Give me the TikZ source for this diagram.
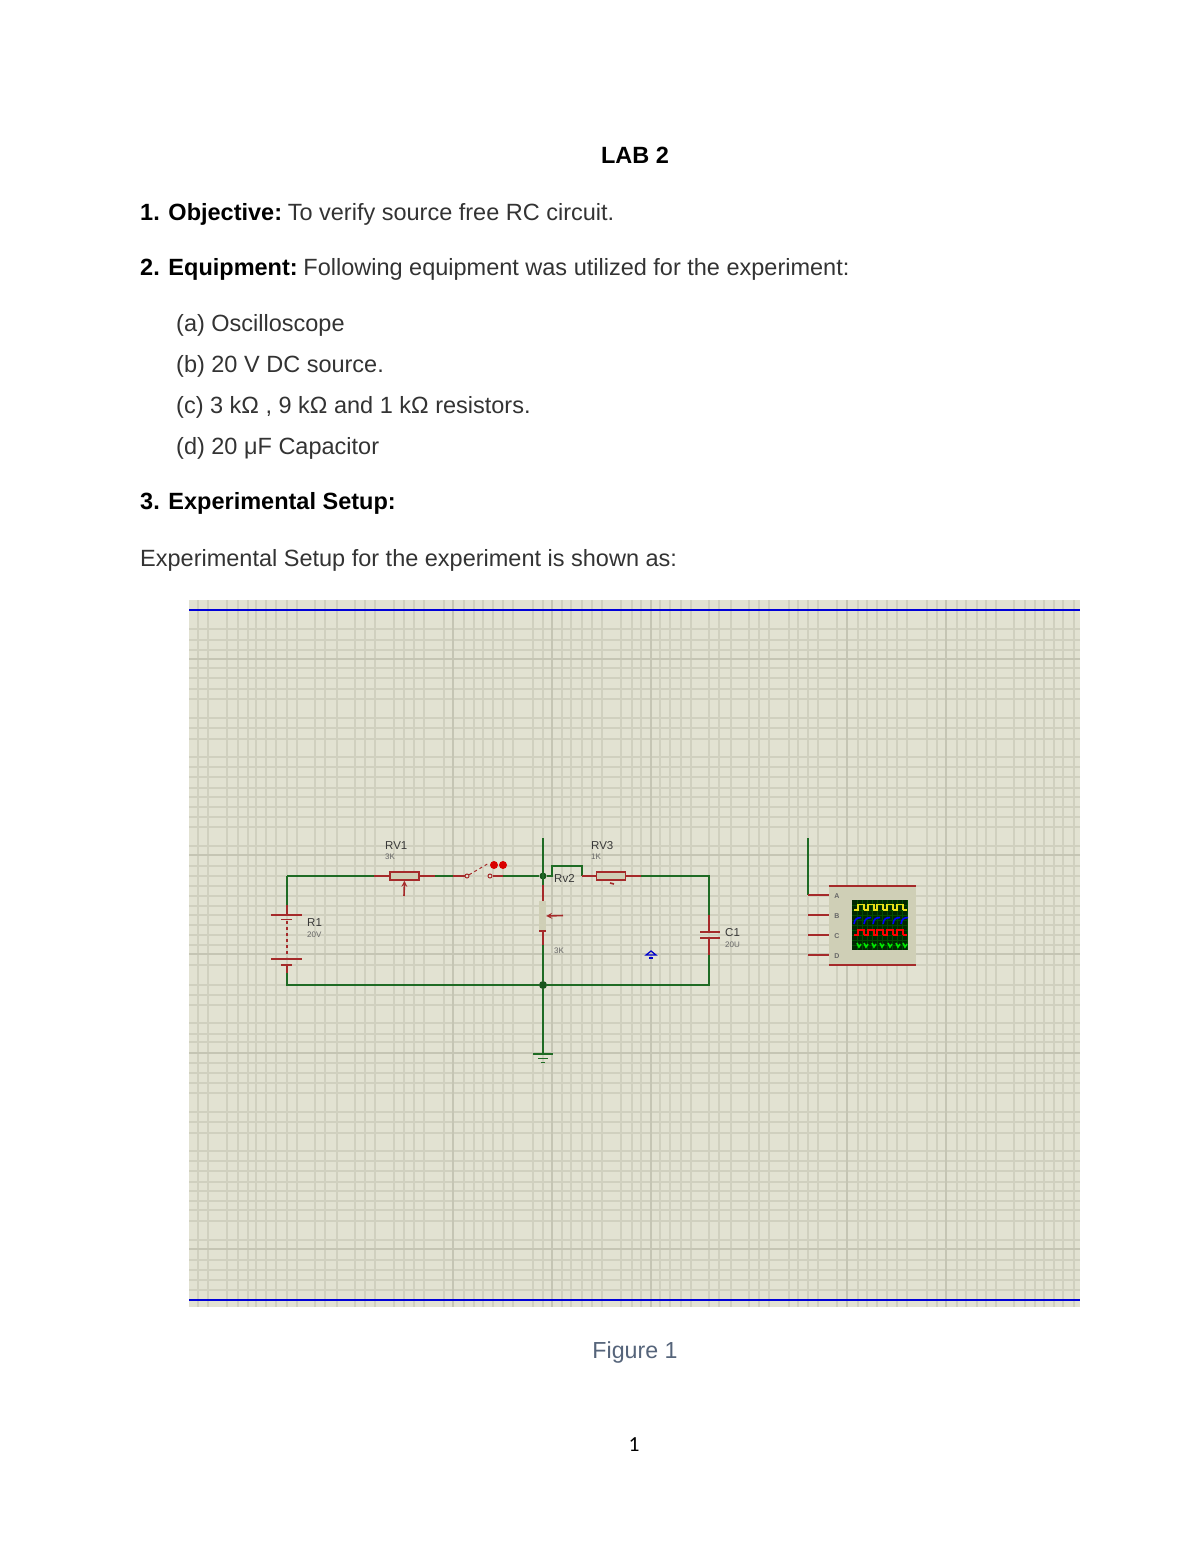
\documentclass[tikz,border=0pt]{standalone}
\usepackage{fontspec}
\setmainfont{Liberation Sans}
\newfontfamily\pagefont{Carlito}
\definecolor{sheet}{HTML}{E2E2D2}
\definecolor{gridcol}{HTML}{D0D0BF}
\definecolor{gridmaj}{HTML}{C5C5B4}
\definecolor{wirecol}{HTML}{1F6B24}
\definecolor{partcol}{HTML}{A52A2A}
\definecolor{partfill}{HTML}{CFCFB6}
\definecolor{capcol}{HTML}{55647A}
\newcommand{\hd}[1]{{\bfseries\color{black}#1}}
\tikzset{
    body/.style={anchor=base west,inner sep=0pt,font=\fontsize{23.5}{28}\selectfont,text=black!80},
    gridline/.style={gridcol,line width=1.7pt},
    gridbold/.style={gridmaj,line width=2.8pt},
    wire/.style={wirecol,line width=1.6pt},
    part/.style={partcol,line width=1.6pt},
    resbox/.style={draw=partcol,fill=partfill,line width=1.6pt,inner sep=0pt,minimum width=29pt,minimum height=8pt},
    dot/.style={circle,fill=wirecol!80!black,inner sep=0pt,minimum size=7pt},
    big/.style={anchor=base west,inner sep=0pt,font=\fontsize{11.5}{13}\selectfont,text=black!78},
    tiny/.style={anchor=base west,inner sep=0pt,font=\fontsize{8}{9}\selectfont,text=black!60}
}
\begin{document}
\begin{tikzpicture}[x=1pt,y=-1pt]
    \useasboundingbox (0,0) rectangle (1200,1553);
    \fill[white] (0,0) rectangle (1200,1553);
    % page text
    \node[body,anchor=base] (title) at (635,163) {\hd{LAB 2}};
    \node[body] (objective) at (140,220) {\hd{1. Objective:}\hspace{-3pt} To verify source free RC circuit.};
    \node[body] (equipment) at (140,275) {\hd{2. Equipment:}\hspace{-3pt} Following equipment was utilized for the experiment:};
    \node[body] (itema) at (176,331) {(a) Oscilloscope};
    \node[body] (itemb) at (176,372) {(b) 20 V DC source.};
    \node[body] (itemc) at (176,413) {(c) 3 kΩ , 9 kΩ and 1 kΩ resistors.};
    \node[body] (itemd) at (176,454) {(d) 20 μF Capacitor};
    \node[body] (setup) at (140,509) {\hd{3. Experimental Setup:}};
    \node[body] (shown) at (140,566) {Experimental Setup for the experiment is shown as:};
    % sheet and its grid
    \fill[sheet] (189,600) rectangle (1080,1307);
    \foreach \x in {198,208,227,238,248,256,266,276,287,297,315,325,337,355,365,375,394,404,414,424,444,464,474,483,493,503,513,533,543,562,571,582,592,602,621,632,641,660,670,681,691,709,719,731,749,759,769,789,798,808,818,837,858,867,877,887,897,907,927,937,957,966,977,986,996,1014,1025,1035,1044,1054,1063,1074}
        \draw[gridline] (\x,600) -- (\x,1307);
    \foreach \y in {629,640,650,668,678,689,699,718,728,739,757,767,777,788,797,807,817,827,846,866,876,886,896,906,915,925,935,945,965,985,995,1005,1023,1034,1042,1063,1073,1083,1093,1112,1122,1133,1151,1161,1171,1182,1191,1201,1210,1221,1240,1260,1270,1280,1290}
        \draw[gridline] (189,\y) -- (1080,\y);
    \foreach \x in {453,552,651,847,946}
        \draw[gridbold] (\x,600) -- (\x,1307);
    \foreach \y in {659,855,954,1053,1249}
        \draw[gridbold] (189,\y) -- (1080,\y);
    \draw[blue!85!black,line width=2pt] (189,610) -- (1080,610);
    \draw[blue!85!black,line width=2pt] (189,1300) -- (1080,1300);
    % parts
    \node[resbox] (rv1) at (404.5,876) {};
    \node[resbox] (rv3) at (611,876) {};
    \node[inner sep=0pt,fill=partfill,minimum width=7pt,minimum height=30pt] (rv2) at (542.5,916) {};
    \node[circle,draw=partcol,fill=sheet,line width=1pt,inner sep=0pt,minimum size=4pt] (swa) at (467,876) {};
    \node[circle,draw=partcol,fill=sheet,line width=1pt,inner sep=0pt,minimum size=4pt] (swb) at (490,876) {};
    \node[circle,fill=red!85!black,inner sep=0pt,minimum size=8pt] (pina) at (494,865) {};
    \node[circle,fill=red!85!black,inner sep=0pt,minimum size=8pt] (pinb) at (503,865) {};
    \node[dot] (top) at (543,876) {};
    \node[dot,minimum size=8pt] (bot) at (543,985) {};
    \coordinate (cornerl) at (287,876);
    \coordinate (cornerb) at (287,985);
    \coordinate (cornerr) at (709,985);
    \coordinate (cornert) at (709,876);
    \coordinate (gnd) at (543,1054);
    % wires
    \draw[wire] (cornerl) -- (374,876);
    \draw[wire] (435,876) -- (453,876);
    \draw[wire] (503,876) -- (top);
    \draw[wire] (543,838) -- (543,885);
    \draw[wire] (543,945) -- (bot) -- (gnd);
    \draw[wire] (cornerl) -- (287,905);
    \draw[wire] (287,973) -- (cornerb) -- (bot) -- (cornerr) -- (709,955);
    \draw[wire] (709,915) -- (cornert) -- (641,876);
    \draw[wire] (top) -- (552,876) -- (552,866) -- (582,866) -- (582,876);
    % red stubs
    \draw[part] (374,876) -- (rv1.west);
    \draw[part] (rv1.east) -- (435,876);
    \draw[part,->,>=stealth] (404,896) -- (rv1.south);
    \draw[part] (453,876) -- (swa);
    \draw[part,dashed,line width=1pt] (swa) -- (489,863);
    \draw[part] (swb) -- (503,876);
    \draw[part] (543,885) -- (543,901);
    \draw[part] (539,931) -- (546,931);
    \draw[part] (543,931) -- (543,945);
    \draw[part,->,>=stealth] (563,915.5) -- (rv2.east);
    \draw[part] (582,876) -- (rv3.west);
    \draw[part] (rv3.east) -- (641,876);
    \draw[part] (610,883) -- (614,884);
    % source
    \draw[part] (287,905) -- (287,915);
    \draw[part] (271,915) -- (302,915);
    \draw[part] (281,919.5) -- (292,919.5);
    \draw[part,dashed] (287,921) -- (287,957);
    \draw[part] (271,959) -- (302,959);
    \draw[part] (281,965) -- (292,965);
    \draw[part] (287,965) -- (287,973);
    % capacitor
    \draw[part] (709,915) -- (709,932);
    \draw[part] (700,932) -- (720,932);
    \draw[part] (700,938) -- (720,938);
    \draw[part] (709,938) -- (709,955);
    % ground
    \draw[wirecol,line width=1.6pt] (533,1054) -- (553,1054);
    \draw[wirecol,line width=1.4pt] (538,1058.5) -- (548,1058.5);
    \draw[wirecol,line width=1.4pt] (541,1062.5) -- (545,1062.5);
    % probe mark
    \draw[blue!80!black,line width=1.2pt] (646,955) -- (651,951) -- (656,955) -- cycle;
    \draw[blue!80!black,line width=1.2pt] (649,958) -- (653,958);
    % labels
    \node[big] (lblr1) at (307,926) {R1};
    \node[tiny] (valr1) at (307,937) {20V};
    \node[big] (lblrv1) at (385,849) {RV1};
    \node[tiny] (valrv1) at (385,859) {3K};
    \node[big] (lblrv2) at (554,882) {Rv2};
    \node[tiny] (valrv2) at (554,953) {3K};
    \node[big] (lblrv3) at (591,849) {RV3};
    \node[tiny] (valrv3) at (591,859) {1K};
    \node[big] (lblc1) at (725,936) {C1};
    \node[tiny] (valc1) at (725,947) {20U};
    % oscilloscope
    \node[fill=partfill,inner sep=0pt,minimum width=87pt,minimum height=79pt] (scope) at (872.5,925.5) {};
    \draw[partcol,line width=1.8pt] (scope.north west) -- (scope.north east);
    \draw[partcol,line width=1.8pt] (scope.south west) -- (scope.south east);
    \draw[wire] (808,838) -- (808,895);
    \foreach \y/\l in {895/A,915/B,935/C,955/D} {
        \draw[part] (808,\y) -- (829,\y);
        \node[tiny,anchor=center,font=\fontsize{7}{8}\selectfont\bfseries] (pin\l) at (837,\y+1) {\l};
    }
    \node[fill=black!85!green,inner sep=0pt,minimum width=56pt,minimum height=50pt] (screen) at (880,925) {};
    \foreach \x in {857,862,...,907}
        \draw[green!30!black,line width=0.6pt] (\x,900) -- (\x,950);
    \foreach \y in {905,910,...,945}
        \draw[green!30!black,line width=0.6pt] (852,\y) -- (908,\y);
    \foreach \x in {858,868,877,887,897}
        \draw[yellow!90!black,line width=1.6pt] (\x-4,910) -- (\x,910) -- (\x,904.5) -- (\x+6,904.5) -- (\x+6,910);
    \draw[yellow!90!black,line width=1.6pt] (903,910) -- (907,910);
    \foreach \x in {854,864,873,883,893,901}
        \draw[blue,line width=1.6pt] (\x,924) .. controls (\x+1,918) and (\x+3,918) .. (\x+7,917.5);
    \foreach \x in {858,868,877,887,897}
        \draw[red,line width=1.6pt] (\x-4,935) -- (\x,935) -- (\x,930) -- (\x+6,930) -- (\x+6,935);
    \draw[red,line width=1.6pt] (903,935) -- (907,935);
    \foreach \x in {857,864,872,880,888,896,903}
        \draw[green!90!black,line width=1.6pt] (\x,943) -- (\x+2,947) -- (\x+4,944);
    % caption and page number
    \node[body,anchor=base,text=capcol,font=\fontsize{23.2}{28}\selectfont] (caption) at (635,1358) {Figure 1};
    \node[anchor=base,inner sep=0pt,font=\pagefont\fontsize{21.5}{25}\selectfont] (pageno) at (634,1451) {1};
\end{tikzpicture}
\end{document}
